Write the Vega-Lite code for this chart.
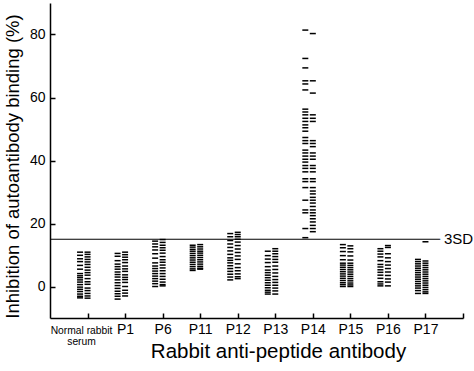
{
  "$schema": "https://vega.github.io/schema/vega-lite/v6.json",
  "autosize": "none",
  "width": 413,
  "height": 315,
  "padding": {"left": 50, "top": 3, "right": 11, "bottom": 53},
  "config": {"view": {"stroke": null}, "font": "Liberation Sans"},
  "data": {"values": [
    {"g":"Normal rabbit serum","s":"L","v":10.9},{"g":"Normal rabbit serum","s":"L","v":9.9},{"g":"Normal rabbit serum","s":"L","v":8.8},{"g":"Normal rabbit serum","s":"L","v":7.9},{"g":"Normal rabbit serum","s":"L","v":6.7},{"g":"Normal rabbit serum","s":"L","v":5.5},{"g":"Normal rabbit serum","s":"L","v":4.1},{"g":"Normal rabbit serum","s":"L","v":3.4},{"g":"Normal rabbit serum","s":"L","v":2.8},{"g":"Normal rabbit serum","s":"L","v":2.1},{"g":"Normal rabbit serum","s":"L","v":1.4},{"g":"Normal rabbit serum","s":"L","v":0.6},{"g":"Normal rabbit serum","s":"L","v":-0.2},{"g":"Normal rabbit serum","s":"L","v":-0.9},{"g":"Normal rabbit serum","s":"L","v":-1.6},{"g":"Normal rabbit serum","s":"L","v":-2.4},{"g":"Normal rabbit serum","s":"L","v":-3.1},{"g":"Normal rabbit serum","s":"L","v":-3.6},
    {"g":"Normal rabbit serum","s":"R","v":10.9},{"g":"Normal rabbit serum","s":"R","v":10.2},{"g":"Normal rabbit serum","s":"R","v":9.4},{"g":"Normal rabbit serum","s":"R","v":8.6},{"g":"Normal rabbit serum","s":"R","v":7.8},{"g":"Normal rabbit serum","s":"R","v":7.0},{"g":"Normal rabbit serum","s":"R","v":6.1},{"g":"Normal rabbit serum","s":"R","v":5.2},{"g":"Normal rabbit serum","s":"R","v":4.4},{"g":"Normal rabbit serum","s":"R","v":3.6},{"g":"Normal rabbit serum","s":"R","v":2.5},{"g":"Normal rabbit serum","s":"R","v":1.5},{"g":"Normal rabbit serum","s":"R","v":0.7},{"g":"Normal rabbit serum","s":"R","v":-0.5},{"g":"Normal rabbit serum","s":"R","v":-1.3},{"g":"Normal rabbit serum","s":"R","v":-2.2},{"g":"Normal rabbit serum","s":"R","v":-3.0},{"g":"Normal rabbit serum","s":"R","v":-3.7},
    {"g":"P1","s":"L","v":10.5},{"g":"P1","s":"L","v":9.6},{"g":"P1","s":"L","v":8.2},{"g":"P1","s":"L","v":7.1},{"g":"P1","s":"L","v":6.3},{"g":"P1","s":"L","v":5.5},{"g":"P1","s":"L","v":4.6},{"g":"P1","s":"L","v":3.8},{"g":"P1","s":"L","v":3.0},{"g":"P1","s":"L","v":2.1},{"g":"P1","s":"L","v":1.2},{"g":"P1","s":"L","v":0.3},{"g":"P1","s":"L","v":-0.6},{"g":"P1","s":"L","v":-1.5},{"g":"P1","s":"L","v":-2.3},{"g":"P1","s":"L","v":-3.1},{"g":"P1","s":"L","v":-4.0},
    {"g":"P1","s":"R","v":10.9},{"g":"P1","s":"R","v":10.1},{"g":"P1","s":"R","v":9.3},{"g":"P1","s":"R","v":8.5},{"g":"P1","s":"R","v":7.6},{"g":"P1","s":"R","v":6.5},{"g":"P1","s":"R","v":5.6},{"g":"P1","s":"R","v":4.8},{"g":"P1","s":"R","v":3.7},{"g":"P1","s":"R","v":2.9},{"g":"P1","s":"R","v":2.2},{"g":"P1","s":"R","v":1.3},{"g":"P1","s":"R","v":0.0},{"g":"P1","s":"R","v":-1.2},{"g":"P1","s":"R","v":-2.1},{"g":"P1","s":"R","v":-3.0},
    {"g":"P6","s":"L","v":14.4},{"g":"P6","s":"L","v":13.5},{"g":"P6","s":"L","v":12.6},{"g":"P6","s":"L","v":11.6},{"g":"P6","s":"L","v":10.4},{"g":"P6","s":"L","v":9.0},{"g":"P6","s":"L","v":7.5},{"g":"P6","s":"L","v":6.5},{"g":"P6","s":"L","v":5.7},{"g":"P6","s":"L","v":4.9},{"g":"P6","s":"L","v":4.1},{"g":"P6","s":"L","v":3.3},{"g":"P6","s":"L","v":2.5},{"g":"P6","s":"L","v":1.7},{"g":"P6","s":"L","v":0.9},{"g":"P6","s":"L","v":0.0},
    {"g":"P6","s":"R","v":14.9},{"g":"P6","s":"R","v":14.0},{"g":"P6","s":"R","v":13.1},{"g":"P6","s":"R","v":12.3},{"g":"P6","s":"R","v":11.5},{"g":"P6","s":"R","v":10.6},{"g":"P6","s":"R","v":9.5},{"g":"P6","s":"R","v":8.5},{"g":"P6","s":"R","v":7.7},{"g":"P6","s":"R","v":6.8},{"g":"P6","s":"R","v":5.9},{"g":"P6","s":"R","v":5.0},{"g":"P6","s":"R","v":4.1},{"g":"P6","s":"R","v":3.2},{"g":"P6","s":"R","v":2.3},{"g":"P6","s":"R","v":1.4},{"g":"P6","s":"R","v":0.6},{"g":"P6","s":"R","v":0.2},
    {"g":"P11","s":"L","v":13.1},{"g":"P11","s":"L","v":12.5},{"g":"P11","s":"L","v":11.8},{"g":"P11","s":"L","v":11.2},{"g":"P11","s":"L","v":10.5},{"g":"P11","s":"L","v":9.8},{"g":"P11","s":"L","v":9.1},{"g":"P11","s":"L","v":8.4},{"g":"P11","s":"L","v":7.7},{"g":"P11","s":"L","v":7.0},{"g":"P11","s":"L","v":6.3},{"g":"P11","s":"L","v":5.6},{"g":"P11","s":"L","v":5.1},
    {"g":"P11","s":"R","v":13.3},{"g":"P11","s":"R","v":12.6},{"g":"P11","s":"R","v":11.9},{"g":"P11","s":"R","v":11.2},{"g":"P11","s":"R","v":10.6},{"g":"P11","s":"R","v":9.9},{"g":"P11","s":"R","v":9.2},{"g":"P11","s":"R","v":8.5},{"g":"P11","s":"R","v":7.8},{"g":"P11","s":"R","v":7.1},{"g":"P11","s":"R","v":6.4},{"g":"P11","s":"R","v":5.8},{"g":"P11","s":"R","v":5.5},
    {"g":"P12","s":"L","v":16.8},{"g":"P12","s":"L","v":15.8},{"g":"P12","s":"L","v":14.6},{"g":"P12","s":"L","v":13.5},{"g":"P12","s":"L","v":12.4},{"g":"P12","s":"L","v":11.3},{"g":"P12","s":"L","v":10.2},{"g":"P12","s":"L","v":9.1},{"g":"P12","s":"L","v":8.3},{"g":"P12","s":"L","v":7.5},{"g":"P12","s":"L","v":6.6},{"g":"P12","s":"L","v":5.7},{"g":"P12","s":"L","v":4.8},{"g":"P12","s":"L","v":3.9},{"g":"P12","s":"L","v":3.0},{"g":"P12","s":"L","v":2.1},
    {"g":"P12","s":"R","v":17.2},{"g":"P12","s":"R","v":16.5},{"g":"P12","s":"R","v":15.8},{"g":"P12","s":"R","v":15.0},{"g":"P12","s":"R","v":14.1},{"g":"P12","s":"R","v":13.0},{"g":"P12","s":"R","v":11.9},{"g":"P12","s":"R","v":10.8},{"g":"P12","s":"R","v":9.7},{"g":"P12","s":"R","v":8.6},{"g":"P12","s":"R","v":7.2},{"g":"P12","s":"R","v":6.0},{"g":"P12","s":"R","v":5.0},{"g":"P12","s":"R","v":4.0},{"g":"P12","s":"R","v":3.1},{"g":"P12","s":"R","v":2.5},
    {"g":"P13","s":"L","v":11.2},{"g":"P13","s":"L","v":9.8},{"g":"P13","s":"L","v":8.7},{"g":"P13","s":"L","v":7.6},{"g":"P13","s":"L","v":6.3},{"g":"P13","s":"L","v":5.2},{"g":"P13","s":"L","v":4.4},{"g":"P13","s":"L","v":3.6},{"g":"P13","s":"L","v":2.8},{"g":"P13","s":"L","v":2.0},{"g":"P13","s":"L","v":1.2},{"g":"P13","s":"L","v":0.4},{"g":"P13","s":"L","v":-0.4},{"g":"P13","s":"L","v":-1.2},{"g":"P13","s":"L","v":-1.8},{"g":"P13","s":"L","v":-2.4},
    {"g":"P13","s":"R","v":12.0},{"g":"P13","s":"R","v":11.2},{"g":"P13","s":"R","v":10.4},{"g":"P13","s":"R","v":9.5},{"g":"P13","s":"R","v":8.6},{"g":"P13","s":"R","v":7.7},{"g":"P13","s":"R","v":6.5},{"g":"P13","s":"R","v":5.4},{"g":"P13","s":"R","v":4.3},{"g":"P13","s":"R","v":3.2},{"g":"P13","s":"R","v":2.2},{"g":"P13","s":"R","v":1.3},{"g":"P13","s":"R","v":0.4},{"g":"P13","s":"R","v":-0.5},{"g":"P13","s":"R","v":-1.4},{"g":"P13","s":"R","v":-2.4},
    {"g":"P14","s":"L","v":81.4},{"g":"P14","s":"L","v":72.4},{"g":"P14","s":"L","v":69.4},{"g":"P14","s":"L","v":65.3},{"g":"P14","s":"L","v":64.3},{"g":"P14","s":"L","v":62.4},{"g":"P14","s":"L","v":56.3},{"g":"P14","s":"L","v":55.4},{"g":"P14","s":"L","v":54.5},{"g":"P14","s":"L","v":53.4},{"g":"P14","s":"L","v":52.4},{"g":"P14","s":"L","v":51.3},{"g":"P14","s":"L","v":50.4},{"g":"P14","s":"L","v":49.3},{"g":"P14","s":"L","v":47.3},{"g":"P14","s":"L","v":46.3},{"g":"P14","s":"L","v":45.4},{"g":"P14","s":"L","v":43.3},{"g":"P14","s":"L","v":42.4},{"g":"P14","s":"L","v":41.4},{"g":"P14","s":"L","v":40.4},{"g":"P14","s":"L","v":39.5},{"g":"P14","s":"L","v":38.4},{"g":"P14","s":"L","v":37.5},{"g":"P14","s":"L","v":36.4},{"g":"P14","s":"L","v":34.2},{"g":"P14","s":"L","v":33.3},{"g":"P14","s":"L","v":31.4},{"g":"P14","s":"L","v":27.4},{"g":"P14","s":"L","v":24.3},{"g":"P14","s":"L","v":23.4},{"g":"P14","s":"L","v":18.4},{"g":"P14","s":"L","v":15.5},
    {"g":"P14","s":"R","v":80.3},{"g":"P14","s":"R","v":65.3},{"g":"P14","s":"R","v":61.4},{"g":"P14","s":"R","v":54.5},{"g":"P14","s":"R","v":53.4},{"g":"P14","s":"R","v":52.4},{"g":"P14","s":"R","v":46.3},{"g":"P14","s":"R","v":45.4},{"g":"P14","s":"R","v":44.4},{"g":"P14","s":"R","v":42.4},{"g":"P14","s":"R","v":41.4},{"g":"P14","s":"R","v":40.4},{"g":"P14","s":"R","v":38.4},{"g":"P14","s":"R","v":37.5},{"g":"P14","s":"R","v":36.4},{"g":"P14","s":"R","v":34.2},{"g":"P14","s":"R","v":33.3},{"g":"P14","s":"R","v":31.4},{"g":"P14","s":"R","v":30.3},{"g":"P14","s":"R","v":29.4},{"g":"P14","s":"R","v":28.3},{"g":"P14","s":"R","v":27.4},{"g":"P14","s":"R","v":26.5},{"g":"P14","s":"R","v":25.4},{"g":"P14","s":"R","v":24.3},{"g":"P14","s":"R","v":23.4},{"g":"P14","s":"R","v":22.5},{"g":"P14","s":"R","v":21.5},{"g":"P14","s":"R","v":20.5},{"g":"P14","s":"R","v":19.4},{"g":"P14","s":"R","v":18.4},{"g":"P14","s":"R","v":17.4},
    {"g":"P15","s":"L","v":13.3},{"g":"P15","s":"L","v":12.3},{"g":"P15","s":"L","v":11.1},{"g":"P15","s":"L","v":9.8},{"g":"P15","s":"L","v":8.5},{"g":"P15","s":"L","v":7.4},{"g":"P15","s":"L","v":6.8},{"g":"P15","s":"L","v":6.1},{"g":"P15","s":"L","v":5.4},{"g":"P15","s":"L","v":4.7},{"g":"P15","s":"L","v":4.0},{"g":"P15","s":"L","v":3.3},{"g":"P15","s":"L","v":2.6},{"g":"P15","s":"L","v":1.9},{"g":"P15","s":"L","v":1.2},{"g":"P15","s":"L","v":0.6},{"g":"P15","s":"L","v":0.0},
    {"g":"P15","s":"R","v":12.9},{"g":"P15","s":"R","v":12.0},{"g":"P15","s":"R","v":11.0},{"g":"P15","s":"R","v":9.7},{"g":"P15","s":"R","v":8.4},{"g":"P15","s":"R","v":7.4},{"g":"P15","s":"R","v":6.7},{"g":"P15","s":"R","v":6.0},{"g":"P15","s":"R","v":5.3},{"g":"P15","s":"R","v":4.6},{"g":"P15","s":"R","v":3.9},{"g":"P15","s":"R","v":3.2},{"g":"P15","s":"R","v":2.5},{"g":"P15","s":"R","v":1.8},{"g":"P15","s":"R","v":1.1},{"g":"P15","s":"R","v":0.5},{"g":"P15","s":"R","v":0.0},
    {"g":"P16","s":"L","v":12.0},{"g":"P16","s":"L","v":11.2},{"g":"P16","s":"L","v":10.3},{"g":"P16","s":"L","v":9.4},{"g":"P16","s":"L","v":8.2},{"g":"P16","s":"L","v":7.0},{"g":"P16","s":"L","v":6.2},{"g":"P16","s":"L","v":5.3},{"g":"P16","s":"L","v":4.5},{"g":"P16","s":"L","v":3.6},{"g":"P16","s":"L","v":2.6},{"g":"P16","s":"L","v":1.5},{"g":"P16","s":"L","v":0.8},{"g":"P16","s":"L","v":0.2},
    {"g":"P16","s":"R","v":13.0},{"g":"P16","s":"R","v":12.4},{"g":"P16","s":"R","v":10.4},{"g":"P16","s":"R","v":9.1},{"g":"P16","s":"R","v":7.9},{"g":"P16","s":"R","v":6.8},{"g":"P16","s":"R","v":5.7},{"g":"P16","s":"R","v":4.6},{"g":"P16","s":"R","v":3.5},{"g":"P16","s":"R","v":2.4},{"g":"P16","s":"R","v":1.4},{"g":"P16","s":"R","v":0.2},
    {"g":"P17","s":"L","v":8.6},{"g":"P17","s":"L","v":7.9},{"g":"P17","s":"L","v":7.2},{"g":"P17","s":"L","v":6.5},{"g":"P17","s":"L","v":5.8},{"g":"P17","s":"L","v":5.1},{"g":"P17","s":"L","v":4.4},{"g":"P17","s":"L","v":3.7},{"g":"P17","s":"L","v":3.0},{"g":"P17","s":"L","v":2.3},{"g":"P17","s":"L","v":1.6},{"g":"P17","s":"L","v":0.9},{"g":"P17","s":"L","v":0.2},{"g":"P17","s":"L","v":-0.5},{"g":"P17","s":"L","v":-1.3},{"g":"P17","s":"L","v":-2.2},
    {"g":"P17","s":"R","v":14.2},{"g":"P17","s":"R","v":8.1},{"g":"P17","s":"R","v":7.4},{"g":"P17","s":"R","v":6.7},{"g":"P17","s":"R","v":6.0},{"g":"P17","s":"R","v":5.3},{"g":"P17","s":"R","v":4.6},{"g":"P17","s":"R","v":3.9},{"g":"P17","s":"R","v":3.2},{"g":"P17","s":"R","v":2.5},{"g":"P17","s":"R","v":1.8},{"g":"P17","s":"R","v":1.1},{"g":"P17","s":"R","v":0.4},{"g":"P17","s":"R","v":-0.3},{"g":"P17","s":"R","v":-1.0},{"g":"P17","s":"R","v":-1.7},{"g":"P17","s":"R","v":-2.2}
  ]},
  "encoding": {
    "x": {
      "field": "g", "type": "nominal", "sort": null,
      "scale": {"type": "point", "domain": ["Normal rabbit serum","P1","P6","P11","P12","P13","P14","P15","P16","P17"," "], "padding": 0.5, "align": 1},
      "axis": {
        "title": "Rabbit anti-peptide antibody",
        "titleFontSize": 20.5, "titleFontWeight": "normal", "titleColor": "#000",
        "titleBaseline": "alphabetic", "titleY": 39, "titleX": 228, "titleAlign": "center",
        "labelAngle": 0, "labelColor": "#000",
        "labelExpr": "datum.value == 'Normal rabbit serum' ? ['Normal rabbit', 'serum'] : datum.label",
        "labelFontSize": {"condition": {"test": "datum.value == 'Normal rabbit serum'", "value": 10.3}, "value": 14},
        "labelOffset": {"condition": {"test": "datum.value == 'Normal rabbit serum'", "value": -6.5}, "value": 0},
        "labelPadding": {"condition": {"test": "datum.value == 'Normal rabbit serum'", "value": 12}, "value": 9},
        "labelLineHeight": 11,
        "labelOverlap": false,
        "tickSize": -5, "tickWidth": 1.5, "tickColor": "#000",
        "domainColor": "#000", "domainWidth": 1.5,
        "grid": false
      }
    },
    "y": {
      "field": "v", "type": "quantitative",
      "scale": {"domain": [-10, 90], "nice": false, "zero": false},
      "axis": {
        "title": "Inhibition of autoantibody binding (%)",
        "titleFontSize": 18.5, "titleFontWeight": "normal", "titleColor": "#000",
        "titleBaseline": "alphabetic", "titleX": -32, "titleY": 163, "titleAlign": "center",
        "values": [0, 20, 40, 60, 80],
        "labelFontSize": 14, "labelColor": "#000", "labelPadding": 10,
        "tickSize": -5, "tickWidth": 1.5, "tickColor": "#000",
        "domainColor": "#000", "domainWidth": 1.5,
        "grid": false
      }
    }
  },
  "layer": [
    {
      "data": {"values": [{"t": 15}]},
      "mark": {"type": "rule", "color": "#000", "strokeWidth": 1.2},
      "encoding": {"y": {"field": "t", "type": "quantitative"}, "x": null}
    },
    {
      "transform": [{"filter": "datum.s == 'L'"}],
      "mark": {"type": "tick", "color": "#000", "size": 6, "thickness": 1.5, "xOffset": -7.5, "opacity": 1}
    },
    {
      "transform": [{"filter": "datum.s == 'R'"}],
      "mark": {"type": "tick", "color": "#000", "size": 6, "thickness": 1.5, "xOffset": 0, "opacity": 1}
    },
    {
      "data": {"values": [{"g": " ", "t": 15, "label": "3SD"}]},
      "mark": {"type": "text", "align": "left", "baseline": "middle", "dx": -19, "fontSize": 15, "fill": "#fff", "stroke": "#fff", "strokeWidth": 8},
      "encoding": {"y": {"field": "t", "type": "quantitative"}, "text": {"field": "label"}}
    },
    {
      "data": {"values": [{"g": " ", "t": 15, "label": "3SD"}]},
      "mark": {"type": "text", "align": "left", "baseline": "middle", "dx": -19, "fontSize": 15, "color": "#000"},
      "encoding": {"y": {"field": "t", "type": "quantitative"}, "text": {"field": "label"}}
    }
  ]
}
